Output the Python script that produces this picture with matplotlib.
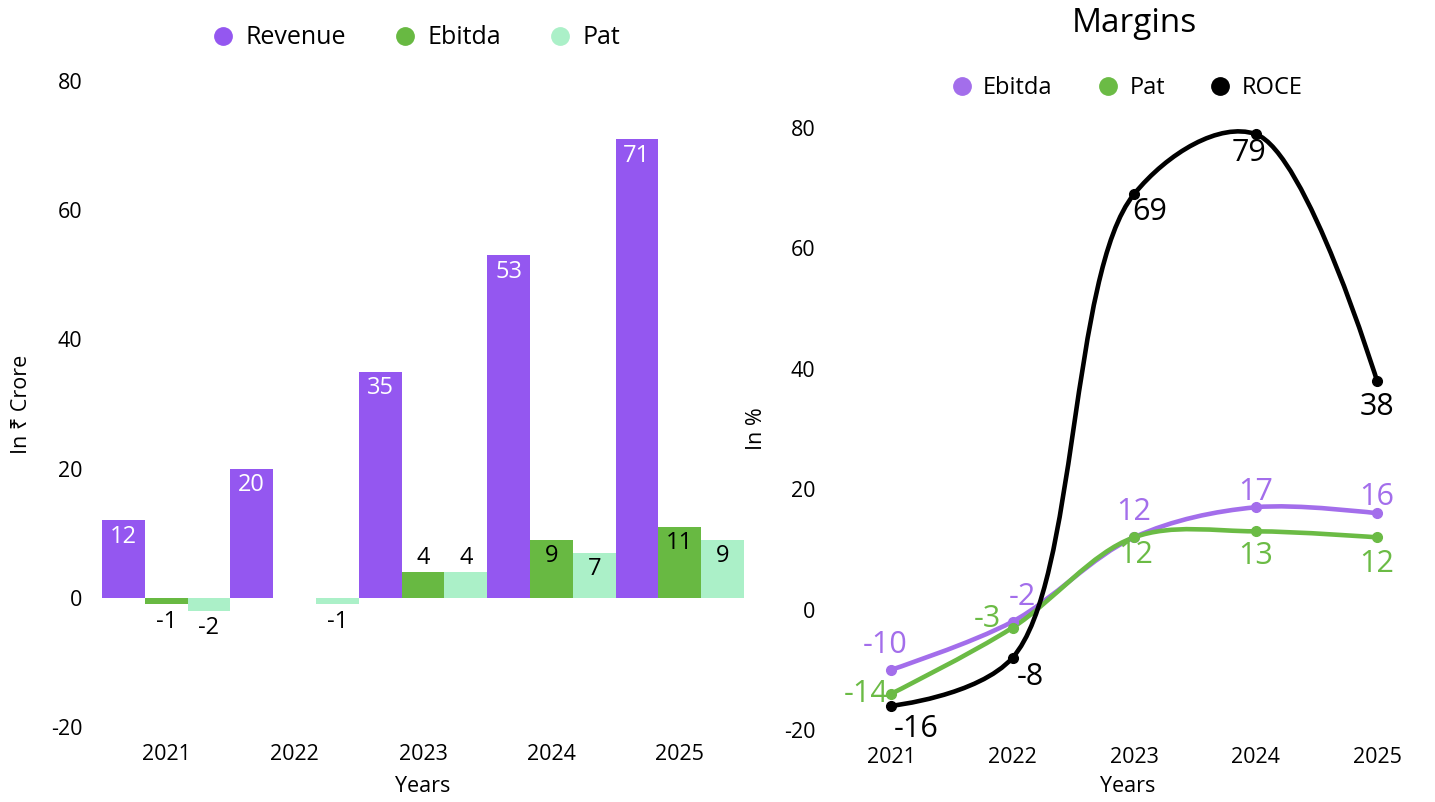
import matplotlib
matplotlib.use("Agg")
import matplotlib.pyplot as plt
import numpy as np
from matplotlib.lines import Line2D
from matplotlib.path import Path
from matplotlib.patches import PathPatch

plt.rcParams["font.family"] = ["Open Sans", "Noto Sans", "DejaVu Sans"]
plt.rcParams["axes.unicode_minus"] = False

years = ["2021", "2022", "2023", "2024", "2025"]

# left panel, in Rs crore (2022 Ebitda not reported)
revenue = [12, 20, 35, 53, 71]
ebitda = [-1, None, 4, 9, 11]
pat = [-2, -1, 4, 7, 9]

# right panel, margins in %
ebitda_margin = [-10, -2, 12, 17, 16]
pat_margin = [-14, -3, 12, 13, 12]
roce = [-16, -8, 69, 79, 38]

# label offsets (points) for the margin chart, roughly where the original put them
ebitda_lbl_off = [(-4, 18), (7, 18), (0, 18.5), (0, 11), (0, 12)]
pat_lbl_off = [(-18, 0), (-18, 6.5), (1.5, -12.5), (0, -17.5), (0, -19)]
roce_lbl_off = [(18, -16.5), (13, -14), (11, -13), (-5, -14), (0, -19)]

C_REV, C_EBITDA, C_PAT = "#9457F0", "#68B942", "#ABF0C8"
C_EM, C_PM, C_ROCE = "#A36EEB", "#6BBB45", "#000000"

W, H = 1435, 802
fig = plt.figure(figsize=(W / 100, H / 100), dpi=100)


def px_axes(left, top, right, bottom):
    return fig.add_axes([left / W, 1 - bottom / H, (right - left) / W, (bottom - top) / H])


def clean(ax):
    for s in ax.spines.values():
        s.set_visible(False)
    ax.tick_params(length=0, labelsize=15.5, colors="black")


def catmull_rom(ax, xs, ys, alpha=0.5):
    """Centripetal Catmull-Rom through the points, done in pixel space as bezier segments."""
    pts = ax.transData.transform(np.column_stack([xs, ys]))
    n = len(pts)
    verts, codes = [pts[0]], [Path.MOVETO]
    for i in range(n - 1):
        p1, p2 = pts[i], pts[i + 1]
        l12_2a = np.sum((p2 - p1) ** 2) ** alpha
        l12_a = np.sqrt(l12_2a)
        c1, c2 = p1, p2
        if i > 0:
            p0 = pts[i - 1]
            l01_2a = np.sum((p1 - p0) ** 2) ** alpha
            l01_a = np.sqrt(l01_2a)
            a = 2 * l01_2a + 3 * l01_a * l12_a + l12_2a
            c1 = (p1 * a - p0 * l12_2a + p2 * l01_2a) / (3 * l01_a * (l01_a + l12_a))
        if i + 2 < n:
            p3 = pts[i + 2]
            l23_2a = np.sum((p3 - p2) ** 2) ** alpha
            l23_a = np.sqrt(l23_2a)
            b = 2 * l23_2a + 3 * l23_a * l12_a + l12_2a
            c2 = (p2 * b + p1 * l23_2a - p3 * l12_2a) / (3 * l23_a * (l23_a + l12_a))
        verts += [c1, c2, p2]
        codes += [Path.CURVE4] * 3
    verts = ax.transData.inverted().transform(np.array(verts))
    return Path(verts, codes)


# ---------------- left: bars ----------------
ax1 = px_axes(102, 81, 744, 727)
clean(ax1)
x = np.arange(len(years))
bw = 1 / 3
series = [
    ("Revenue", revenue, C_REV, "white", -bw),
    ("Ebitda", ebitda, C_EBITDA, "black", 0),
    ("Pat", pat, C_PAT, "black", bw),
]
for name, vals, col, tcol, off in series:
    xi = [x[i] + off for i, v in enumerate(vals) if v is not None]
    vi = [v for v in vals if v is not None]
    ax1.bar(xi, vi, width=bw, color=col, linewidth=0)
    for xx, v in zip(xi, vi):
        if v > 5:
            dy, c = -12, tcol
        elif v >= 0:
            dy, c = 10, "black"
        else:
            dy, c = -12.5, "black"
        ax1.annotate(str(v), (xx, v), xytext=(0, dy), textcoords="offset points",
                     ha="center", va="center", fontsize=17, color=c)

ax1.set_xlim(-0.5, 4.5)
ax1.set_ylim(-20, 80)
ax1.set_yticks([-20, 0, 20, 40, 60, 80])
ax1.set_xticks(x)
ax1.set_xticklabels(years)
ax1.tick_params(axis="x", pad=12)
ax1.tick_params(axis="y", pad=14)
ax1.set_xlabel("Years", fontsize=15.5, labelpad=8)
ax1.set_ylabel("In ₹ Crore", fontsize=15.5)
ax1.yaxis.set_label_coords((32 - 102) / 642, 0.5)

fig.legend(
    handles=[Line2D([], [], marker="o", ls="", color=c, markersize=12.5) for c in (C_REV, C_EBITDA, C_PAT)],
    labels=["Revenue", "Ebitda", "Pat"],
    loc="center", bbox_to_anchor=(417 / W, 1 - 38 / H), ncol=3, frameon=False,
    fontsize=18, handlelength=0.7, handletextpad=0.55, columnspacing=2.0,
)

# ---------------- right: margins ----------------
ax2 = px_axes(835, 128, 1420, 730)
clean(ax2)
ax2.set_xlim(-(891 - 835) / 121.5, 4 + (1420 - 1377) / 121.5)
ax2.set_ylim(-20, 80)
ax2.set_yticks([-20, 0, 20, 40, 60, 80])
ax2.set_xticks(x)
ax2.set_xticklabels(years)
ax2.tick_params(axis="x", pad=12)
ax2.tick_params(axis="y", pad=14)
ax2.set_xlabel("Years", fontsize=15.5, labelpad=6)
ax2.set_ylabel("In %", fontsize=15.5)
ax2.yaxis.set_label_coords((767 - 835) / 585, 0.5)

lines = [
    (ebitda_margin, C_EM, ebitda_lbl_off),
    (pat_margin, C_PM, pat_lbl_off),
    (roce, C_ROCE, roce_lbl_off),
]
for vals, col, offs in lines:
    path = catmull_rom(ax2, x, vals)
    ax2.add_patch(PathPatch(path, fill=False, edgecolor=col, lw=3.3, capstyle="round"))
    ax2.plot(x, vals, "o", color=col, markersize=7, zorder=3)
    for xx, v, (dx, dy) in zip(x, vals, offs):
        ax2.annotate(str(v), (xx, v), xytext=(dx, dy), textcoords="offset points",
                     ha="center", va="center", fontsize=22, color=col, zorder=4)

fig.text(1134 / W, 1 - 23 / H, "Margins", ha="center", va="center", fontsize=24)
fig.legend(
    handles=[Line2D([], [], marker="o", ls="", color=c, markersize=12.5) for c in (C_EM, C_PM, C_ROCE)],
    labels=["Ebitda", "Pat", "ROCE"],
    loc="center", bbox_to_anchor=(1128 / W, 1 - 88 / H), ncol=3, frameon=False,
    fontsize=17, handlelength=0.7, handletextpad=0.55, columnspacing=2.0,
)

fig.savefig("out.png", dpi=100)
